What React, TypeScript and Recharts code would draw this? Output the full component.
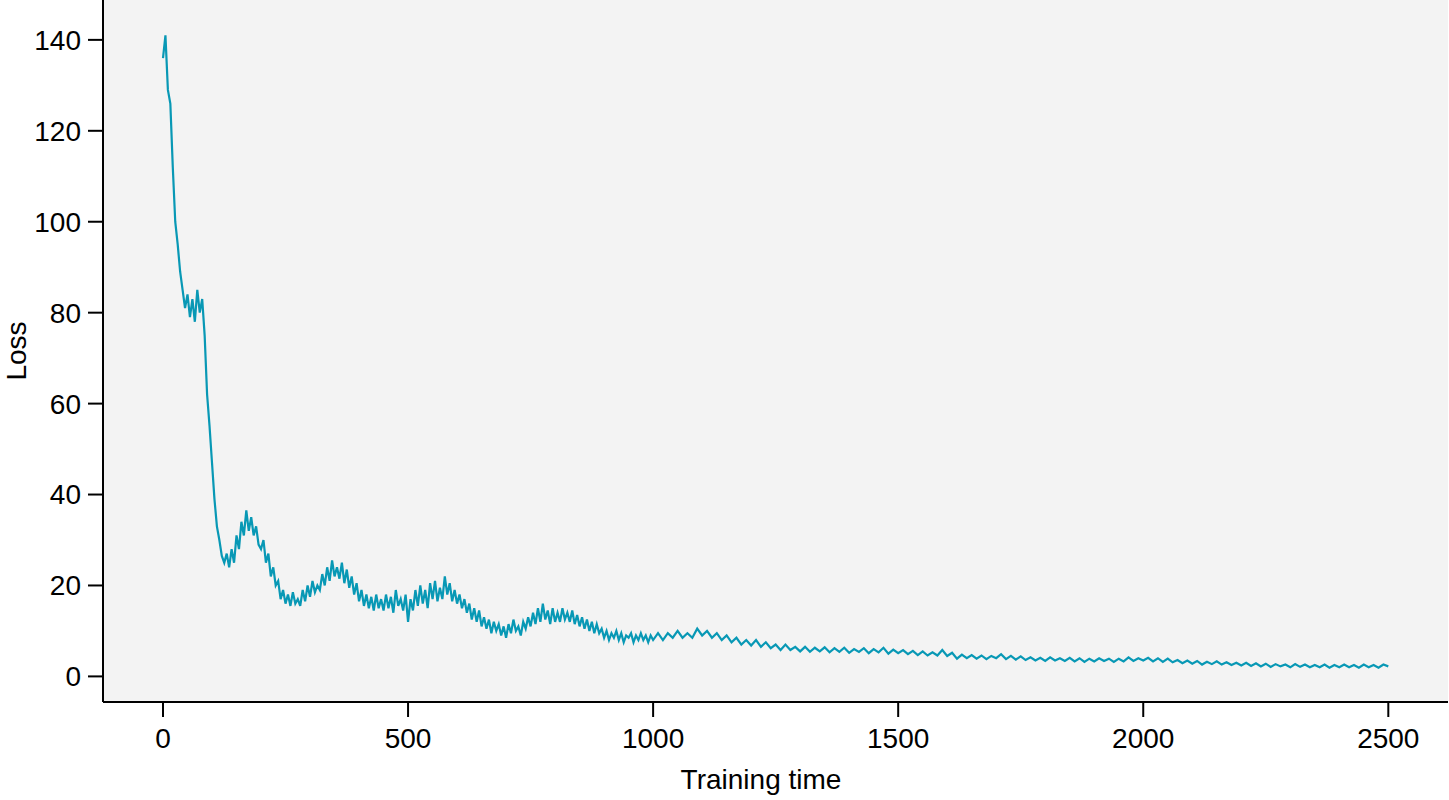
import React from 'react';
import { LineChart, Line, XAxis, YAxis, CartesianGrid, Label } from 'recharts';

// loss readings, 0..200 every 5 steps (steep drop + first bump)
const lossEarly = [
    136, 141, 129, 126, 112, 100, 95, 89, 85, 81,
    84, 79, 83, 78, 85, 80, 83, 75, 62, 55,
    47, 39, 33, 30, 26.5, 25, 27, 24, 28, 25,
    31, 28, 34, 31, 36.5, 32, 35, 31, 33, 29,
    28,
];

// 205..1000 every 5 steps
const lossMid = [
    30, 25, 27, 22, 24, 20, 21, 17, 19, 16,
    18, 15.5, 18.5, 16, 17, 15.5, 19, 16.5, 20, 17.5,
    21, 18.5, 20, 19, 22.5, 20, 24, 21, 25.5, 22,
    24, 21.5, 25, 20.5, 23.5, 19.5, 22, 18, 20.5, 16.5,
    19, 15.5, 18, 15, 17.5, 14.5, 18, 15, 17, 14.5,
    18, 15, 17.5, 14, 19, 15.5, 17, 14.5, 18, 12,
    17, 14.5, 19, 15.5, 20, 16, 19, 15, 20.5, 17,
    21, 16.5, 19.5, 17, 22, 18, 20.5, 16.5, 19, 16,
    18, 15, 17, 14, 16, 12.5, 15, 12, 14.5, 11,
    13, 10.5, 12.5, 9.5, 12, 10, 11.5, 9, 11, 8.5,
    11.5, 9.5, 12.5, 10, 11, 9, 12, 10.5, 13, 11,
    14, 11.5, 15, 12, 16, 12.5, 14.5, 11.5, 15, 12,
    14, 12, 15, 12.5, 14, 12, 14.5, 11.5, 13.5, 11,
    13, 10.5, 12.5, 10, 12, 9.5, 11.5, 9.5, 10.5, 8.5,
    10, 8, 9.5, 8.5, 10, 8, 9.5, 7.5, 9, 8.5,
    9.5, 7.5, 9, 8, 9.5, 8, 9, 7.5, 9, 8,
];

// 1010..2500 every 10 steps
const lossLate = [
    9.5, 8, 9.5, 8.5, 10, 8.5, 9.5, 8.5, 10.5, 9,
    10, 8.5, 9.5, 8, 9, 7.5, 8.5, 7, 8, 6.8,
    8, 6.5, 7.5, 6.2, 7, 5.8, 7, 5.8, 6.5, 5.5,
    6.5, 5.4, 6.3, 5.5, 6.4, 5.3, 6.2, 5.4, 6.3, 5.2,
    6, 5.4, 6.2, 5.1, 6, 5.3, 6.3, 5, 5.9, 5.1,
    5.8, 4.9, 5.6, 4.7, 5.5, 4.6, 5.3, 4.6, 5.8, 4.5,
    5.2, 3.9, 4.8, 4, 4.7, 3.9, 4.6, 3.8, 4.5, 4,
    4.9, 3.8, 4.5, 3.7, 4.4, 3.6, 4.2, 3.5, 4.1, 3.4,
    4.2, 3.5, 4, 3.4, 4.1, 3.3, 4, 3.2, 3.9, 3.3,
    4, 3.4, 3.9, 3.2, 3.9, 3.3, 4.2, 3.4, 4, 3.5,
    4.1, 3.3, 4, 3.2, 3.9, 3.1, 3.6, 2.9, 3.5, 2.8,
    3.4, 2.6, 3.2, 2.7, 3.3, 2.6, 3.1, 2.5, 3, 2.4,
    3, 2.3, 2.9, 2.2, 2.8, 2.1, 2.7, 2.2, 2.6, 2,
    2.7, 2.1, 2.6, 2, 2.5, 2, 2.6, 1.9, 2.5, 2,
    2.6, 2, 2.5, 1.9, 2.6, 2, 2.5, 1.9, 2.6, 2.2,
];

const xTicks = [0, 500, 1000, 1500, 2000, 2500];
const yTicks = [0, 20, 40, 60, 80, 100, 120, 140];

const data = [
    ...lossEarly.map((loss, i) => ({ time: i * 5, loss })),
    ...lossMid.map((loss, i) => ({ time: 205 + i * 5, loss })),
    ...lossLate.map((loss, i) => ({ time: 1010 + i * 10, loss })),
];

const FONT = '"Liberation Sans", Arial, sans-serif';
const tickStyle = { fontSize: 28, fill: '#000', fontFamily: FONT };

const App: React.FC = () => {
    return (
        <div style={{ position: 'absolute', left: 0, top: 0, width: 1449, height: 800 }}>
            <LineChart width={1449} height={800} data={data} margin={{ top: 0, right: 1, left: 0, bottom: 0 }}>
                <CartesianGrid fill="#f3f3f3" stroke="none" horizontal={false} vertical={false} />
                <XAxis
                    dataKey="time"
                    type="number"
                    domain={[-122.4, 2621.8]}
                    ticks={xTicks}
                    allowDataOverflow
                    height={98}
                    tickSize={15}
                    tickMargin={11}
                    tick={tickStyle}
                    axisLine={{ stroke: '#000', strokeWidth: 2 }}
                    tickLine={{ stroke: '#000', strokeWidth: 2 }}
                >
                    <Label
                        content={() => (
                            <text x={761} y={789} textAnchor="middle" fontSize={28} fontFamily={FONT} fill="#000">
                                Training time
                            </text>
                        )}
                    />
                </XAxis>
                <YAxis
                    type="number"
                    domain={[-5.63, 148.77]}
                    ticks={yTicks}
                    allowDataOverflow
                    width={103}
                    tickSize={15}
                    tickMargin={7}
                    tick={tickStyle}
                    axisLine={{ stroke: '#000', strokeWidth: 2 }}
                    tickLine={{ stroke: '#000', strokeWidth: 2 }}
                >
                    <Label
                        content={() => (
                            <text
                                x={16}
                                y={351}
                                transform="rotate(-90, 16, 351)"
                                textAnchor="middle"
                                dominantBaseline="central"
                                fontSize={28}
                                fontFamily={FONT}
                                fill="#000"
                            >
                                Loss
                            </text>
                        )}
                    />
                </YAxis>
                <Line
                    type="linear"
                    dataKey="loss"
                    stroke="#0898b5"
                    strokeWidth={2.2}
                    dot={false}
                    isAnimationActive={false}
                />
            </LineChart>
        </div>
    );
};

export default App;
